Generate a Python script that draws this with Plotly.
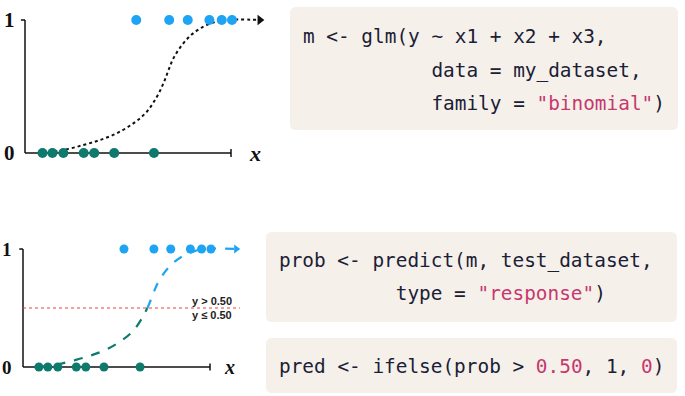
import plotly.graph_objects as go

# ---- data (x in axis units where the x-axis spans 0..10) ----
x_class1 = [5.40, 7.00, 7.90, 8.95, 9.55, 10.05]
x_class0 = [0.85, 1.33, 1.86, 2.85, 3.36, 4.33, 6.26]
curve_x = [0.83, 1.86, 2.83, 3.64, 4.45, 5.26, 5.91, 6.39, 6.71, 6.96, 7.20, 7.61, 8.09, 8.66, 9.14, 9.63, 11.40]
curve_y = [0.00, 0.023, 0.06, 0.098, 0.148, 0.223, 0.31, 0.42, 0.52, 0.62, 0.71, 0.81, 0.89, 0.95, 0.98, 1.00, 1.00]
threshold = 0.50
y_ticks = [0, 1]
y_ticktext = ["0", "1"]

code_top = ['m <- glm(y ~ x1 + x2 + x3,',
            '           data = my_dataset,',
            '           family = <span style="color:#c8376f">"binomial"</span>)']
code_mid = ['prob <- predict(m, test_dataset,',
            '          type = <span style="color:#c8376f">"response"</span>)']
code_bot = ['pred <- ifelse(prob > <span style="color:#c8376f">0.50</span>, 1, <span style="color:#c8376f">0</span>)']

BLUE = "#1ea4f4"
TEAL = "#0e7a6d"
W, H = 685, 396

def px(x):
    return x / W

def py(y):
    return 1 - y / H

def nb(s):
    return s.replace(" ", "&nbsp;").replace("<span&nbsp;", "<span ")

fig = go.Figure()

# ---------- top chart (x, y) ----------
fig.add_trace(go.Scatter(x=curve_x, y=curve_y, mode="lines", line=dict(color="#111", width=2, dash="dot", shape="spline"),
                         xaxis="x", yaxis="y", hoverinfo="skip", cliponaxis=False))
fig.add_trace(go.Scatter(x=[curve_x[-1]], y=[curve_y[-1]], mode="markers",
                         marker=dict(symbol="triangle-right", size=9, color="#111"),
                         xaxis="x", yaxis="y", cliponaxis=False))
fig.add_trace(go.Scatter(x=x_class1, y=[1] * len(x_class1), mode="markers", marker=dict(color=BLUE, size=10),
                         xaxis="x", yaxis="y", cliponaxis=False))
fig.add_trace(go.Scatter(x=x_class0, y=[0] * len(x_class0), mode="markers", marker=dict(color=TEAL, size=10),
                         xaxis="x", yaxis="y", cliponaxis=False))

# ---------- bottom chart (x2, y2) ----------
i = next(k for k, y in enumerate(curve_y) if y > threshold)
xc = curve_x[i - 1] + (threshold - curve_y[i - 1]) * (curve_x[i] - curve_x[i - 1]) / (curve_y[i] - curve_y[i - 1])
lo_x = curve_x[:i] + [xc]
lo_y = curve_y[:i] + [threshold]
hi_x = [xc] + curve_x[i:]
hi_y = [threshold] + curve_y[i:]
fig.add_trace(go.Scatter(x=lo_x, y=lo_y, mode="lines", line=dict(color=TEAL, width=2.2, dash="dash", shape="spline"),
                         xaxis="x2", yaxis="y2", cliponaxis=False))
fig.add_trace(go.Scatter(x=hi_x, y=hi_y, mode="lines", line=dict(color=BLUE, width=2.2, dash="dash", shape="spline"),
                         xaxis="x2", yaxis="y2", cliponaxis=False))
fig.add_trace(go.Scatter(x=[hi_x[-1]], y=[hi_y[-1]], mode="markers",
                         marker=dict(symbol="triangle-right", size=8, color=BLUE),
                         xaxis="x2", yaxis="y2", cliponaxis=False))
fig.add_trace(go.Scatter(x=x_class1, y=[1] * len(x_class1), mode="markers", marker=dict(color=BLUE, size=9),
                         xaxis="x2", yaxis="y2", cliponaxis=False))
fig.add_trace(go.Scatter(x=x_class0, y=[0] * len(x_class0), mode="markers", marker=dict(color=TEAL, size=9),
                         xaxis="x2", yaxis="y2", cliponaxis=False))

axis_common = dict(showgrid=False, zeroline=False, showline=False, fixedrange=True, automargin=False,
                   showticklabels=False, ticks="")

fig.update_layout(
    width=W, height=H, autosize=False, showlegend=False,
    margin=dict(l=0, r=0, t=0, b=0, pad=0),
    paper_bgcolor="white", plot_bgcolor="rgba(0,0,0,0)",
    xaxis=dict(domain=[px(4.4), px(272.2)], range=[-1, 12], anchor="y", **axis_common),
    yaxis=dict(domain=[py(173), py(0)], range=[-0.15, 1.15], anchor="x", **axis_common),
    xaxis2=dict(domain=[px(4.3), px(247.4)], range=[-1, 12], anchor="y2", **axis_common),
    yaxis2=dict(domain=[py(384.7), py(231.3)], range=[-0.15, 1.15], anchor="x2", **axis_common),
)

shapes = []
for xa, ya in (("x", "y"), ("x2", "y2")):
    shapes.append(dict(type="line", xref=xa, yref=ya, x0=0, x1=0, y0=0, y1=1, line=dict(color="#111", width=1.5), layer="below"))
    shapes.append(dict(type="line", xref=xa, yref=ya, x0=0, x1=10, y0=0, y1=0, line=dict(color="#111", width=1.5), layer="below"))
    shapes.append(dict(type="line", xref=xa, yref=ya, x0=-0.2, x1=0, y0=1, y1=1, line=dict(color="#111", width=1.5), layer="below"))
    shapes.append(dict(type="line", xref=xa, yref=ya, x0=10, x1=10, y0=-0.03, y1=0.03, line=dict(color="#111", width=1.5), layer="below"))
# threshold line
shapes.append(dict(type="line", xref="x2", yref="y2", x0=0, x1=11.6, y0=threshold, y1=threshold,
                   line=dict(color="#e8413a", width=1, dash="dot"), layer="below"))


def rounded_box(x0, y0, x1, y1, r=6):
    X0, X1 = px(x0), px(x1)
    Y0, Y1 = py(y0), py(y1)
    rx, ry = r / W, r / H
    path = (f"M {X0+rx},{Y0} L {X1-rx},{Y0} Q {X1},{Y0} {X1},{Y0-ry} "
            f"L {X1},{Y1+ry} Q {X1},{Y1} {X1-rx},{Y1} L {X0+rx},{Y1} Q {X0},{Y1} {X0},{Y1+ry} "
            f"L {X0},{Y0-ry} Q {X0},{Y0} {X0+rx},{Y0} Z")
    return dict(type="path", xref="paper", yref="paper", path=path, fillcolor="#f5f1ea",
                line=dict(width=0), layer="below")

shapes.append(rounded_box(290, 7, 678, 130))
shapes.append(rounded_box(266, 232, 677, 322))
shapes.append(rounded_box(266, 338, 677, 393))
fig.update_layout(shapes=shapes)

code_font = dict(family="DejaVu Sans Mono, monospace", size=19.4, color="#1b2036")
ann = []
for k, line in enumerate(code_top):
    ann.append(dict(x=px(301), y=py([36, 70, 103][k]), xref="paper", yref="paper", text=nb(line),
                    showarrow=False, xanchor="left", yanchor="middle", font=code_font))
for k, line in enumerate(code_mid):
    ann.append(dict(x=px(277), y=py([260, 293][k]), xref="paper", yref="paper", text=nb(line),
                    showarrow=False, xanchor="left", yanchor="middle", font=code_font))
for line in code_bot:
    ann.append(dict(x=px(277), y=py(366), xref="paper", yref="paper", text=nb(line),
                    showarrow=False, xanchor="left", yanchor="middle", font=code_font))

# y tick labels "0" / "1"
for xa, ya, xpos, size in (("x", "y", -0.38, 21), ("x2", "y2", -0.5, 19)):
    for v, t in zip(y_ticks, y_ticktext):
        ann.append(dict(x=xpos, y=v, xref=xa, yref=ya, text=f"<b>{t}</b>", showarrow=False,
                        xanchor="right", yanchor="middle",
                        font=dict(family="Liberation Serif, serif", size=size, color="#111")))

ann.append(dict(x=10.8, y=0, xref="x", yref="y", text="<b><i>x</i></b>", showarrow=False, xanchor="left", yanchor="middle",
                font=dict(family="Liberation Serif, serif", size=22, color="#111")))
ann.append(dict(x=10.65, y=0, xref="x2", yref="y2", text="<b><i>x</i></b>", showarrow=False, xanchor="left", yanchor="middle",
                font=dict(family="Liberation Serif, serif", size=20, color="#111")))
lab_font = dict(family="Liberation Sans, Arial, sans-serif", size=11, color="#222")
ann.append(dict(x=11.3, y=threshold, xref="x2", yref="y2", text="<b>y &gt; 0.50</b>", showarrow=False,
                xanchor="right", yanchor="bottom", yshift=-1, font=lab_font))
ann.append(dict(x=11.3, y=threshold, xref="x2", yref="y2", text="<b>y ≤ 0.50</b>", showarrow=False,
                xanchor="right", yanchor="top", yshift=1, font=lab_font))
fig.update_layout(annotations=ann)

fig.write_html("out.html", config={"displayModeBar": False, "staticPlot": True},
               post_script="document.body.style.margin='0';document.body.style.overflow='hidden';")
